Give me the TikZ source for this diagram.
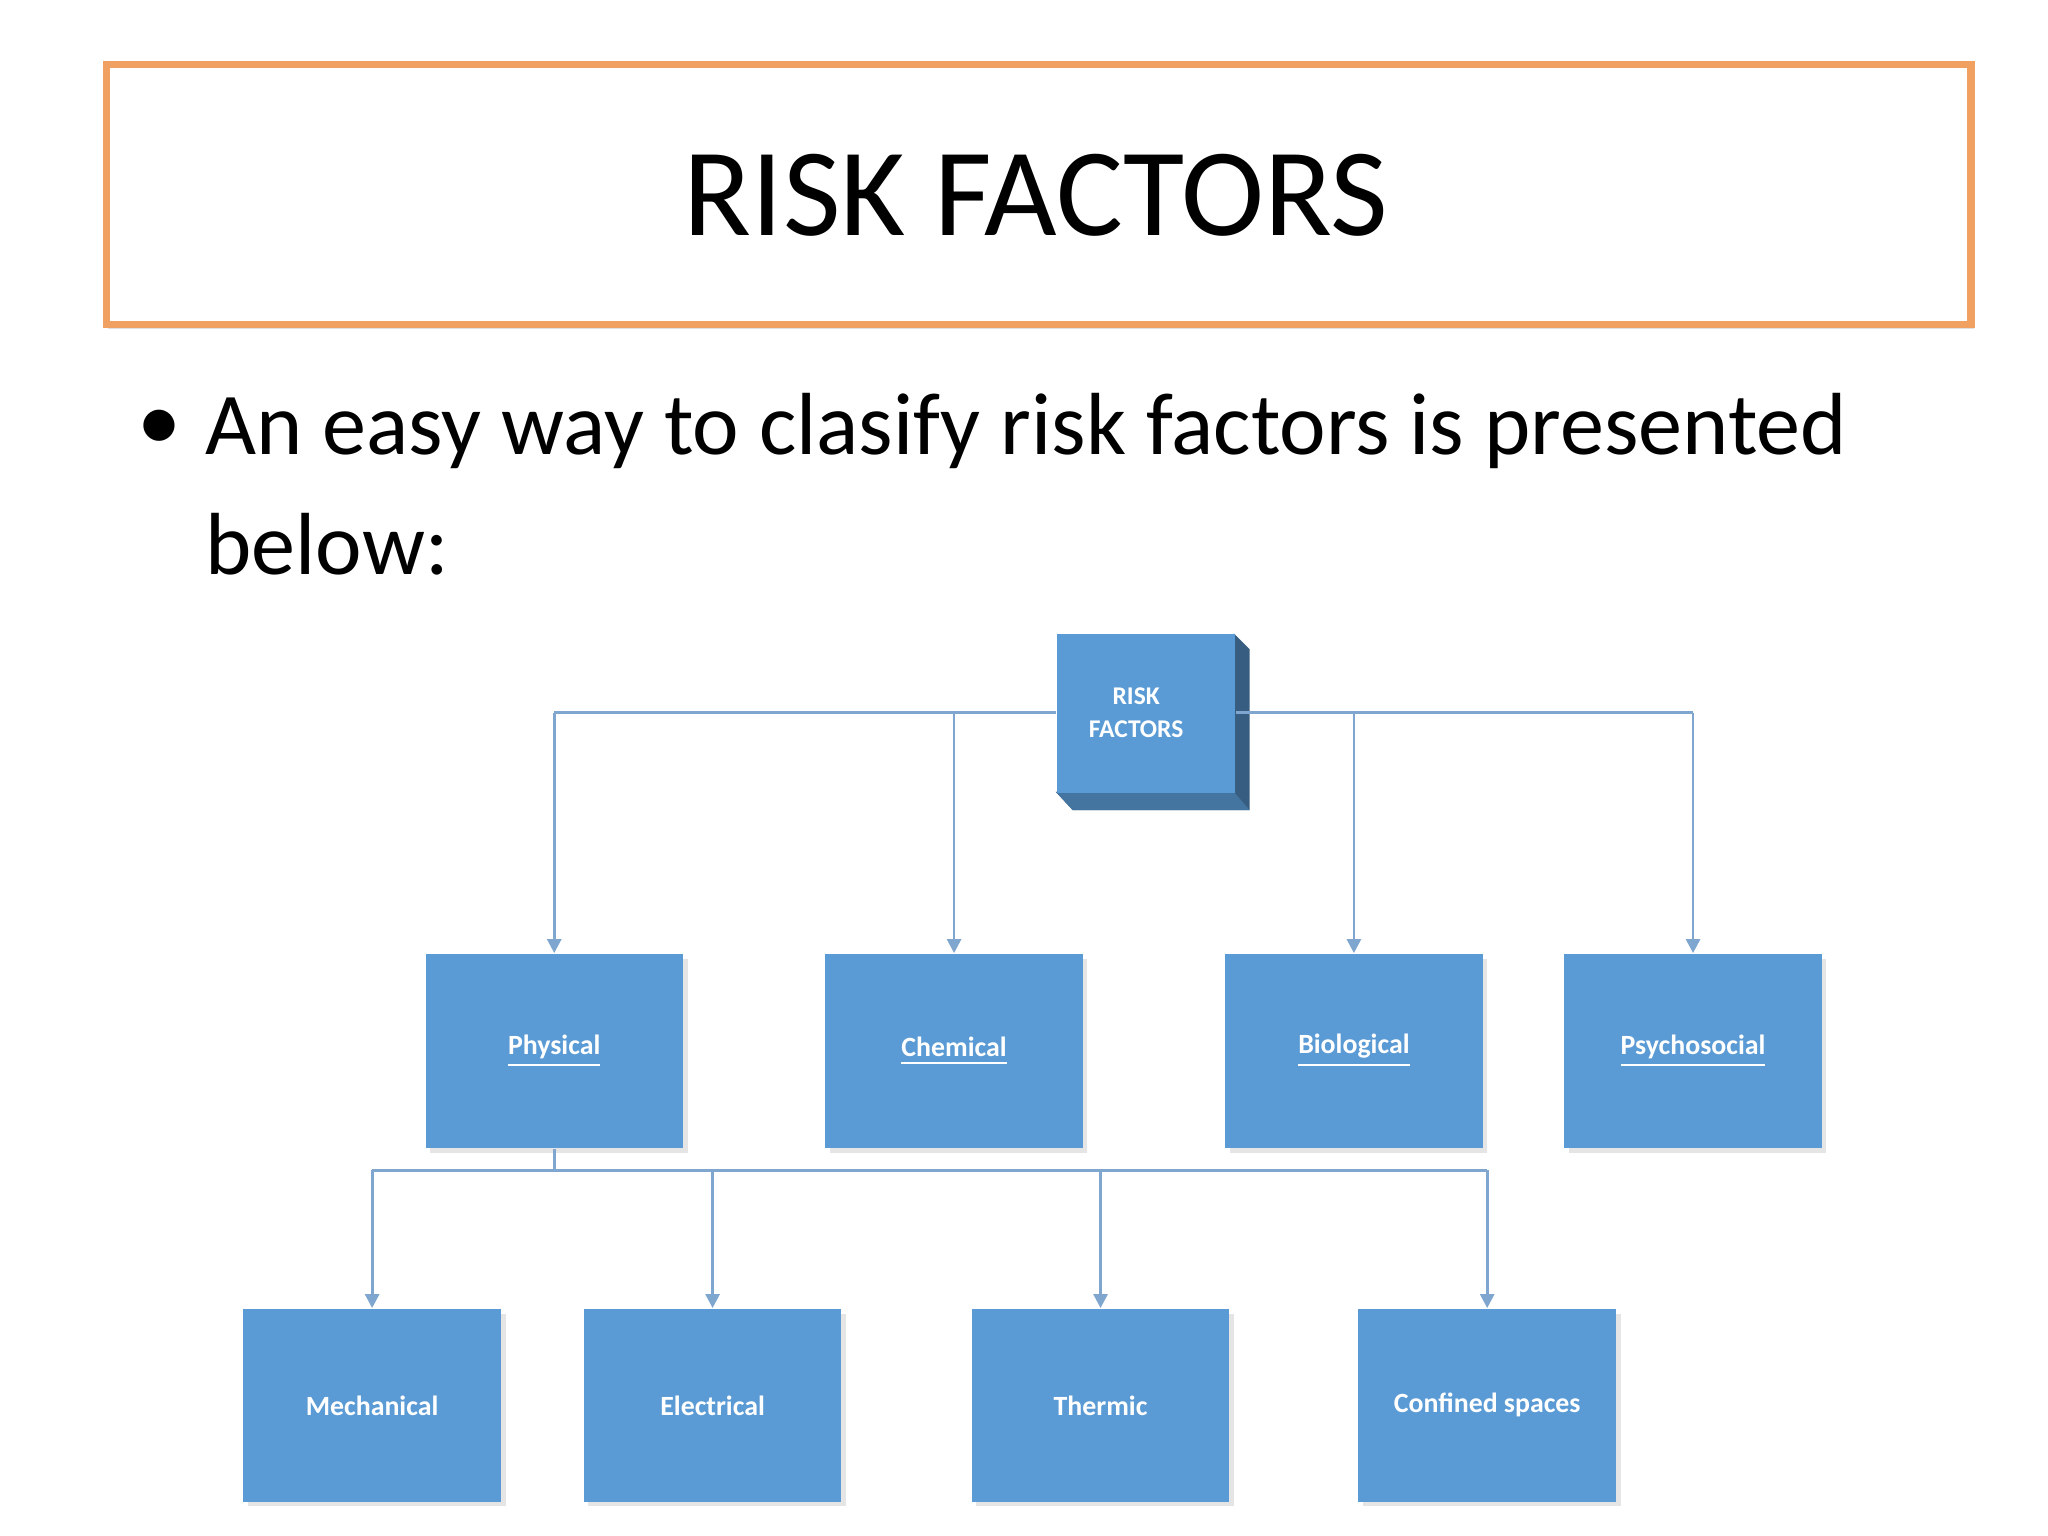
\documentclass[tikz,border=0pt]{standalone}
\usepackage{fontspec}
\setmainfont{Carlito}
\usetikzlibrary{arrows.meta,shadows}
\definecolor{boxblue}{HTML}{5B9BD5}
\definecolor{lineblue}{HTML}{7EA6CF}
\definecolor{orng}{HTML}{F0A060}
\begin{document}
\begin{tikzpicture}[x=0.01cm,y=-0.01cm,
  con/.style={draw=lineblue,line width=0.6pt},
  arr/.style={con,-{Triangle[length=3pt,width=3pt]}}]
\useasboundingbox (0,0) rectangle (1552,1164);
\fill[white] (0,0) rectangle (1552,1164);
% title
\fill[black!12] (82,50) rectangle (1496,249);
\node[draw=orng,line width=1.6pt,fill=white,minimum width=14.12cm,minimum height=1.97cm,anchor=north west] (title) at (78,46) {};
\node[font=\fontsize{27}{32}\selectfont] (tt) at (785,148) {RISK FACTORS};
\node[font=\fontsize{19}{24}\selectfont,anchor=west] (bul) at (92,326) {•};
\node[font=\fontsize{19}{24}\selectfont,anchor=north west,align=left,inner sep=0pt] (btxt) at (155,297) {An easy way to clasify risk factors is presented\\[2pt]below:};
% top box with 3D depth
\fill[boxblue!60!black] (800,600) -- (935,600) -- (935,480) -- (947,492) -- (947,614) -- (813,614) -- cycle;
\fill[boxblue!75!black] (800,600) -- (813,614) -- (947,614) -- (935,600) -- cycle;
\node[fill=boxblue,minimum width=1.35cm,minimum height=1.2cm,anchor=north west,inner sep=0pt] (rf) at (800,480) {};
\node[text=white,font=\fontsize{5.5}{7}\selectfont\bfseries,align=center] (rft) at (861,540) {RISK\\FACTORS};
% row 2
\foreach \n/\x/\t in {phy/420/Physical,che/723/Chemical,bio/1026/Biological,psy/1283/Psychosocial}{
  \node[fill=boxblue,minimum width=1.95cm,minimum height=1.47cm,inner sep=0pt,text=white,font=\fontsize{6}{7}\selectfont\bfseries,drop shadow={shadow xshift=1pt,shadow yshift=-1pt,opacity=0.2}] (\n) at (\x,796.5) {\underline{\t}};
}
% row 3
\foreach \n/\x/\t in {mec/282/Mechanical,ele/540/Electrical,the/834/Thermic,con/1127/Confined spaces}{
  \node[fill=boxblue,minimum width=1.95cm,minimum height=1.46cm,inner sep=0pt,text=white,font=\fontsize{6}{7}\selectfont\bfseries,drop shadow={shadow xshift=1pt,shadow yshift=-1pt,opacity=0.2}] (\n) at (\x,1065) {\t};
}
% connectors
\coordinate (h1) at (420,540);
\coordinate (h2) at (1283,540);
\draw[con] (rf.west |- h1) -- (h1);
\draw[con] (rf.east |- h1) -- (h2);
\draw[arr] (h1) -- (phy.north);
\draw[arr] (723,540) -- (che.north);
\draw[arr] (1026,540) -- (bio.north);
\draw[arr] (h2) -- (psy.north);
\coordinate (j) at (420,887);
\draw[con] (phy.south) -- (j);
\draw[con] (282,887) -- (1127,887);
\draw[arr] (282,887) -- (mec.north);
\draw[arr] (540,887) -- (ele.north);
\draw[arr] (834,887) -- (the.north);
\draw[arr] (1127,887) -- (con.north);
\end{tikzpicture}
\end{document}
